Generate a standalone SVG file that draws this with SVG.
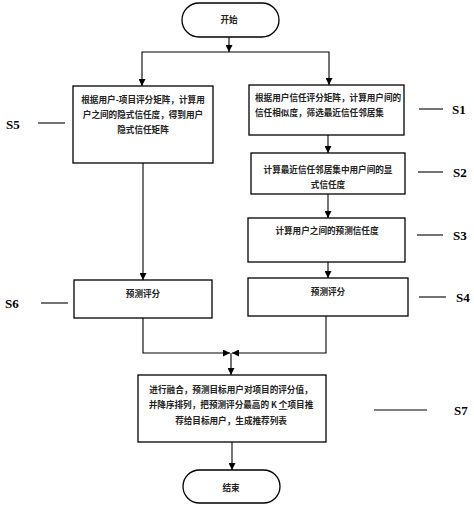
<svg xmlns="http://www.w3.org/2000/svg" width="474" height="508" viewBox="0 0 474 508">
<defs>
<marker id="ah" markerUnits="userSpaceOnUse" markerWidth="7" markerHeight="7" refX="7" refY="3.5" orient="auto">
<path d="M0,0 L7,3.5 L0,7 z" fill="#000"/>
</marker>
</defs>
<style>
.box{fill:#fff;stroke:#000;stroke-width:1.3}
.t{font-family:"Noto Sans CJK SC","Noto Sans CJK JP",sans-serif;font-size:8.6px;font-weight:bold;fill:#222;text-anchor:middle;dominant-baseline:central}
.lbl{font-family:"Liberation Serif",serif;font-size:13px;font-weight:bold;fill:#000;dominant-baseline:central}
.ln{stroke:#000;stroke-width:1.1;fill:none}
.c{stroke:#000;stroke-width:1.1;fill:none;marker-end:url(#ah)}
</style>
<rect width="474" height="508" fill="#fff"/>
<g id="connectors">
<path class="c" d="M229,37 V52"/>
<path class="c" d="M229,52 H142 V86"/>
<path class="c" d="M229,52 H329 V85"/>
<path class="c" d="M143,163 V280"/>
<path class="c" d="M328,135 V153"/>
<path class="c" d="M328,194 V218"/>
<path class="c" d="M328,262 V278"/>
<path class="c" d="M143,318 V353 H230"/>
<path class="c" d="M326,316 V353 H232"/>
<path class="c" d="M231,353 V375"/>
<path class="c" d="M232,442 V470"/>
</g>
<g id="start">
<rect class="box" x="182" y="3" width="97" height="34" rx="17"/>
<text class="t" x="229" y="19">开始</text>
</g>
<g id="s5">
<rect class="box" x="73" y="86" width="140" height="77"/>
<text class="t" x="143" y="99">根据用户-项目评分矩阵，计算用</text>
<text class="t" x="143" y="114">户之间的隐式信任度，得到用户</text>
<text class="t" x="143" y="129">隐式信任矩阵</text>
<path class="ln" d="M38,123 H65"/>
<text class="lbl" x="6" y="124">S5</text>
</g>
<g id="s1">
<rect class="box" x="249" y="85" width="155" height="50"/>
<text class="t" x="255" y="97" style="text-anchor:start">根据用户信任评分矩阵，计算用户间的</text>
<text class="t" x="255" y="112" style="text-anchor:start">信任相似度，筛选最近信任邻居集</text>
<path class="ln" d="M419,109 H443"/>
<text class="lbl" x="452" y="109">S1</text>
</g>
<g id="s2">
<rect class="box" x="251" y="153" width="154" height="41"/>
<text class="t" x="328" y="169">计算最近信任邻居集中用户间的显</text>
<text class="t" x="328" y="184">式信任度</text>
<path class="ln" d="M418,172 H443"/>
<text class="lbl" x="453" y="172">S2</text>
</g>
<g id="s3">
<rect class="box" x="248" y="218" width="157" height="44"/>
<text class="t" x="327" y="230">计算用户之间的预测信任度</text>
<path class="ln" d="M417,235 H443"/>
<text class="lbl" x="453" y="235">S3</text>
</g>
<g id="s6">
<rect class="box" x="74" y="280" width="138" height="38"/>
<text class="t" x="143" y="293">预测评分</text>
<path class="ln" d="M41,303 H68"/>
<text class="lbl" x="5" y="303">S6</text>
</g>
<g id="s4">
<rect class="box" x="248" y="278" width="160" height="38"/>
<text class="t" x="328" y="291">预测评分</text>
<path class="ln" d="M419,297 H446"/>
<text class="lbl" x="456" y="297">S4</text>
</g>
<g id="s7">
<rect class="box" x="138" y="375" width="188" height="67"/>
<text class="t" x="231" y="389">进行融合，预测目标用户对项目的评分值，</text>
<text class="t" x="231" y="404">并降序排列，把预测评分最高的 K <tspan text-decoration="underline">个</tspan>项目推</text>
<text class="t" x="231" y="420">荐给目标用户，生成推荐列表</text>
<path class="ln" d="M374,410 H427"/>
<text class="lbl" x="454" y="410">S7</text>
</g>
<g id="end">
<rect class="box" x="183" y="470" width="97" height="33" rx="16.5"/>
<text class="t" x="231" y="487">结束</text>
</g>
</svg>
